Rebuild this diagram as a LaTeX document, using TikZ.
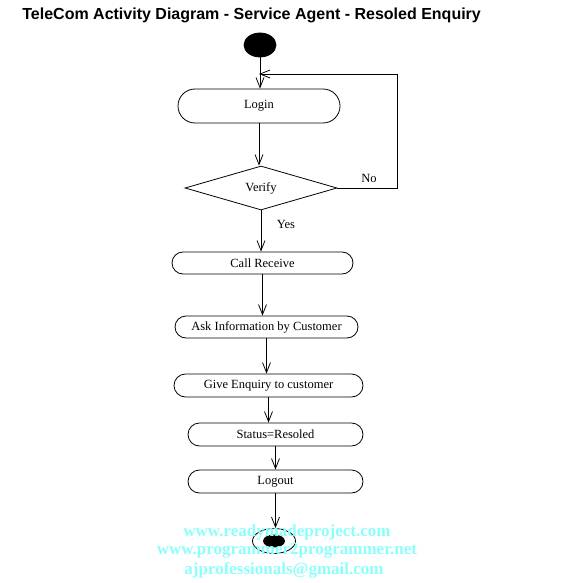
\documentclass[tikz,border=0pt]{standalone}
\usepackage{fontspec}
\setmainfont{Liberation Serif}
\newfontfamily\titlefont{Liberation Sans}
\usetikzlibrary{arrows.meta,shapes.geometric}
\definecolor{wm}{RGB}{140,255,250}
\begin{document}
\begin{tikzpicture}[x=1pt,y=-1pt,line width=0.8pt,
  act/.style={draw,rectangle,inner sep=0pt,font=\fontsize{12.5}{14}\selectfont},
  lbl/.style={font=\fontsize{12.5}{14}\selectfont,inner sep=0pt},
  flow/.style={draw,-{Straight Barb[length=10pt,width=8pt]}},
  wmtext/.style={text=wm,font=\bfseries\fontsize{17}{19}\selectfont,inner sep=0pt},
]
\useasboundingbox (0,0) rectangle (568,583);
\node[font=\titlefont\bfseries\fontsize{16}{18}\selectfont,anchor=west,inner sep=0pt] (title) at (22,15) {TeleCom Activity Diagram - Service Agent - Resoled Enquiry};
\node[draw,fill=black,ellipse,minimum width=32pt,minimum height=24pt,inner sep=0pt] (start) at (260,45) {};
\node[act,minimum width=162pt,minimum height=34pt,rounded corners=17pt] (login) at (259,106) {\raisebox{-2pt}{Login}};
\node[draw,diamond,aspect=3.45,minimum width=152pt,minimum height=44pt,inner sep=0pt,font=\fontsize{12.5}{14}\selectfont] (verify) at (261,188) {Verify};
\node[act,minimum width=181pt,minimum height=22pt,rounded corners=11pt] (call) at (262.5,263) {Call Receive};
\node[act,minimum width=183pt,minimum height=22pt,rounded corners=11pt] (ask) at (266.5,327) {Ask Information by Customer};
\node[act,minimum width=189pt,minimum height=23pt,rounded corners=11.5pt] (give) at (268.5,385.5) {Give Enquiry to customer};
\node[act,minimum width=175pt,minimum height=23pt,rounded corners=11.5pt] (status) at (275.5,434.5) {Status=Resoled};
\node[act,minimum width=175pt,minimum height=23pt,rounded corners=11.5pt] (logout) at (275.5,481.5) {Logout};
\node[draw,ellipse,minimum width=43pt,minimum height=25pt,inner sep=0pt] (end) at (274,541) {};
\node[fill=black,ellipse,minimum width=22pt,minimum height=13pt,inner sep=0pt] (endin) at (274,541) {};
\coordinate (loopR) at (397,188);
\coordinate (merge) at (259,74);
\draw[flow] (start) -- (start |- login.north);
\draw[flow] (verify.east) -- (loopR) |- (merge);
\draw[flow] (login) -- (login |- verify.north);
\draw[flow] (verify) -- (verify |- call.north);
\draw[flow] (call) -- (call |- ask.north);
\draw[flow] (ask) -- (ask |- give.north);
\draw[flow] (give) -- (give |- status.north);
\draw[flow] (status) -- (status |- logout.north);
\draw[flow] (logout) -- (logout |- end.north);
\node[lbl] (no) at (369,178) {No};
\node[lbl] (yes) at (286,224) {Yes};
\node[wmtext] (wm1) at (287,532) {www.readymadeproject.com};
\node[wmtext] (wm2) at (287,551) {www.programmer2programmer.net};
\node[wmtext] (wm3) at (284,570) {ajprofessionals@gmail.com};
\end{tikzpicture}
\end{document}
